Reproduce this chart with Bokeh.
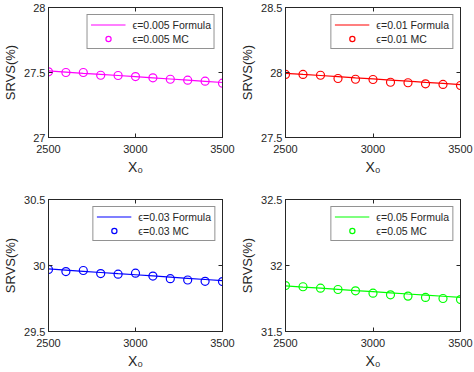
from bokeh.plotting import figure
from bokeh.layouts import gridplot
from bokeh.models import LinearAxis, FixedTicker, Range1d, Legend, LegendItem, NumeralTickFormatter
from bokeh.embed import file_html
from bokeh.resources import INLINE

# ---- data ----
x0 = [2500, 2600, 2700, 2800, 2900, 3000, 3100, 3200, 3300, 3400, 3500]
x_ticks = [2500, 3000, 3500]

eps_labels = ["0.005", "0.01", "0.03", "0.05"]
colors = ["#FF00FF", "#FF0000", "#0000FF", "#00FF00"]
y_ranges = [(27.0, 28.0), (27.5, 28.5), (29.5, 30.5), (31.5, 32.5)]
y_ticks = [[27.0, 27.5, 28.0], [27.5, 28.0, 28.5], [29.5, 30.0, 30.5], [31.5, 32.0, 32.5]]

formula_005 = [27.512, 27.503, 27.494, 27.486, 27.477, 27.468, 27.459, 27.450, 27.441, 27.432, 27.423]
mc_005 = [27.505, 27.500, 27.500, 27.479, 27.477, 27.469, 27.459, 27.448, 27.441, 27.433, 27.418]

formula_01 = [27.994, 27.985, 27.977, 27.968, 27.959, 27.951, 27.942, 27.933, 27.924, 27.916, 27.907]
mc_01 = [27.985, 27.985, 27.979, 27.954, 27.948, 27.946, 27.925, 27.921, 27.913, 27.908, 27.900]

formula_03 = [29.974, 29.965, 29.956, 29.947, 29.938, 29.930, 29.921, 29.912, 29.903, 29.894, 29.885]
mc_03 = [29.970, 29.954, 29.962, 29.939, 29.934, 29.942, 29.920, 29.900, 29.890, 29.880, 29.878]

formula_05 = [31.845, 31.836, 31.828, 31.819, 31.810, 31.802, 31.793, 31.784, 31.776, 31.767, 31.758]
mc_05 = [31.848, 31.839, 31.828, 31.818, 31.808, 31.790, 31.778, 31.768, 31.758, 31.750, 31.742]

formulas = [formula_005, formula_01, formula_03, formula_05]
mcs = [mc_005, mc_01, mc_03, mc_05]

FONT = "Liberation Sans"
AX = "#262626"

# per-column / per-row layout (borders in px)
col_border = [(42, 15), (45, 14)]     # (left, right)
row_border = [(7, 49), (13, 41)]      # (top, bottom)
W, H = 237, 186


def style_axis(ax, show_labels=True):
    ax.axis_line_color = AX
    ax.axis_line_width = 1
    ax.major_tick_line_color = AX
    ax.major_tick_in = 4
    ax.major_tick_out = 0
    ax.minor_tick_line_color = None
    ax.major_label_text_font = FONT
    ax.major_label_text_color = AX
    ax.axis_label_text_font = FONT
    ax.axis_label_text_font_style = "normal"
    ax.axis_label_text_color = AX
    ax.axis_label_text_font_size = "14px"
    if show_labels:
        ax.major_label_text_font_size = "11px"
    else:
        ax.major_label_text_font_size = "1px"
        ax.major_label_text_color = None
        ax.major_label_standoff = 0


def make_panel(i):
    r, c = divmod(i, 2)
    lb, rb = col_border[c]
    tb, bb = row_border[r]
    p = figure(width=W, height=H, output_backend="svg", toolbar_location=None,
               x_range=Range1d(x_ticks[0], x_ticks[-1]),
               y_range=Range1d(*y_ranges[i]),
               x_axis_location=None, y_axis_location=None,
               min_border_left=lb, min_border_right=rb,
               min_border_top=tb, min_border_bottom=bb)
    p.xgrid.visible = False
    p.ygrid.visible = False
    p.outline_line_color = AX
    p.background_fill_color = "white"
    p.border_fill_color = "white"

    xb = LinearAxis(ticker=FixedTicker(ticks=x_ticks), axis_label="X\u2080")
    style_axis(xb)
    xb.major_label_standoff = 7
    xb.axis_label_standoff = 3
    xb.formatter = NumeralTickFormatter(format="0")
    p.add_layout(xb, "below")

    yl = LinearAxis(ticker=FixedTicker(ticks=y_ticks[i]), axis_label="SRVS(%)")
    style_axis(yl)
    yl.axis_label_text_font_size = "13px"
    yl.major_label_standoff = 3
    yl.axis_label_standoff = 3
    yl.formatter = NumeralTickFormatter(format="0.[0]")
    p.add_layout(yl, "left")

    xt = LinearAxis(ticker=FixedTicker(ticks=x_ticks))
    style_axis(xt, show_labels=False)
    p.add_layout(xt, "above")
    yr = LinearAxis(ticker=FixedTicker(ticks=y_ticks[i]))
    style_axis(yr, show_labels=False)
    p.add_layout(yr, "right")

    ln = p.line(x0, formulas[i], line_color=colors[i], line_width=1.2)
    sc = p.scatter(x0, mcs[i], marker="circle", size=8, fill_color=None,
                   line_color=colors[i], line_width=1.2)

    eps = "\u03f5"
    legend = Legend(items=[
        LegendItem(label=f"{eps}={eps_labels[i]} Formula", renderers=[ln]),
        LegendItem(label=f"{eps}={eps_labels[i]} MC", renderers=[sc]),
    ], location="top_right")
    legend.margin = 7
    legend.padding = 3
    legend.spacing = 1
    legend.glyph_width = 35
    legend.glyph_height = 13
    legend.label_height = 13
    legend.label_standoff = 7
    legend.label_text_font = FONT
    legend.label_text_font_size = "10.5px"
    legend.label_text_color = AX
    legend.border_line_color = AX
    legend.border_line_width = 1
    legend.background_fill_alpha = 1
    p.add_layout(legend)
    return p


panels = [make_panel(i) for i in range(4)]
grid = gridplot([[panels[0], panels[1]], [panels[2], panels[3]]], toolbar_location=None)

open("out.html", "w").write(file_html(grid, INLINE))
